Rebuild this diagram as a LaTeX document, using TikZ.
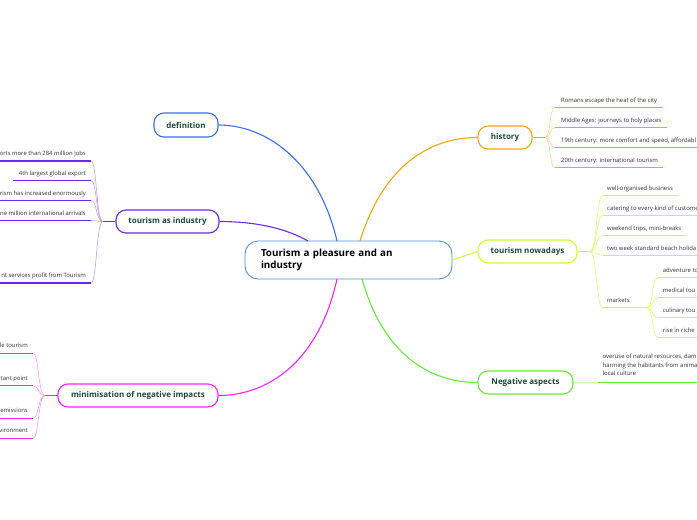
\documentclass[tikz,border=0pt]{standalone}
\usepackage{fontspec}
\setmainfont{Open Sans}
\definecolor{cblue}{HTML}{3B6EF5}
\definecolor{cpurple}{HTML}{6A2AF0}
\definecolor{cmag}{HTML}{FF22FF}
\definecolor{corange}{HTML}{FFA50A}
\definecolor{cyel}{HTML}{CCFF33}
\definecolor{cgreen}{HTML}{66EE33}
\definecolor{ccenter}{HTML}{4F93D8}
\definecolor{ctext}{HTML}{1C4A3C}
\definecolor{leaft}{HTML}{333333}
\tikzset{
  topic/.style={draw, line width=1.1pt, rounded corners=10pt, fill=white,
    font=\fontsize{8}{9.5}\selectfont\bfseries, text=ctext, inner sep=0pt, minimum height=23pt},
  leaf/.style={font=\fontsize{5.9}{7}\selectfont, text=leaft, inner sep=0pt},
  uline/.style={line width=1.5pt},
  twig/.style={line width=0.6pt},
  main/.style={line width=1.1pt}
}
\begin{document}
\begin{tikzpicture}[x=1pt,y=-1pt]
\clip (0,0) rectangle (697,520);
\fill[white] (0,0) rectangle (697,520);

% ---------- topic nodes ----------
\node[draw=ccenter, line width=0.9pt, rounded corners=13pt, fill=white, minimum width=207pt, minimum height=38pt,
  text width=175pt, align=left, inner xsep=16pt, inner ysep=0pt,
  font=\fontsize{9.8}{12.7}\selectfont\bfseries] (c) at (348.5,260) {Tourism a pleasure and an\\industry};
\node[topic, draw=cblue, minimum width=64pt, minimum height=24pt] (def) at (186,125) {definition};
\node[topic, draw=cpurple, minimum width=103pt] (ind) at (167.5,221.5) {tourism as industry};
\node[topic, draw=cmag, minimum width=160pt] (mini) at (138,395.5) {minimisation of negative impacts};
\node[topic, draw=corange, minimum width=54pt] (hist) at (505,137.5) {history};
\node[topic, draw=cyel, minimum width=99pt] (now) at (527.5,251.5) {tourism nowadays};
\node[topic, draw=cgreen, minimum width=95pt] (neg) at (525.5,382.5) {Negative aspects};

% ---------- main connectors ----------
\coordinate (cB) at (337,241);
\coordinate (cP) at (308,241);
\coordinate (cO) at (360,241);
\coordinate (cM) at (337,279);
\coordinate (cG) at (362,279);
\draw[main, cblue] (cB) .. controls (318,160) and (265,125) .. (def.east);
\draw[main, cpurple] (cP) .. controls (280,225) and (245,221.5) .. (ind.east);
\draw[main, cmag] (cM) .. controls (318,365) and (265,395.5) .. (mini.east);
\draw[main, corange] (cO) .. controls (385,160) and (435,137.5) .. (hist.west);
\draw[main, cgreen] (cG) .. controls (385,360) and (435,382.5) .. (neg.west);
\draw[main, cyel] (c.east) -- (now.west);

% ---------- history ----------
\coordinate (hf) at (545,137.5);
\draw[uline, corange] (hist.east) -- (hf);
\foreach \y/\e/\t [count=\i] in {107.7/663/{Romans escape the heat of the city},
  127.7/667/{Middle Ages: journeys to holy places},
  147.7/710/{19th century: more comfort and speed, affordabl},
  167.7/663/{20th century: international tourism}}{
  \coordinate (hs\i) at (555,\y);
  \coordinate (he\i) at (\e,\y);
  \draw[twig, corange!45] (hf) .. controls (551,137.5) and (549,\y) .. (hs\i);
  \draw[uline, corange] (hs\i) -- (he\i);
  \node[leaf, anchor=base west] (ht\i) at (561,\y-5) {\t};
}

% ---------- tourism nowadays ----------
\coordinate (nf) at (590,251.5);
\draw[uline, cyel] (now.east) -- (nf);
\foreach \y/\e/\t [count=\i] in {195.3/679/{well-organised business},
  215.3/710/{catering to every kind of custome},
  235.3/687/{weekend trips, mini-breaks},
  255.3/710/{two week standard beach holida},
  307.7/647/{markets}}{
  \coordinate (ns\i) at (603,\y);
  \coordinate (ne\i) at (\e,\y);
  \draw[twig, cyel!70] (nf) .. controls (597,251.5) and (596,\y) .. (ns\i);
  \draw[uline, cyel] (ns\i) -- (ne\i);
  \node[leaf, anchor=base west] (nt\i) at (607,\y-5) {\t};
}
\foreach \y/\t [count=\i] in {277.7/{adventure to},297.7/{medical tou},317.7/{culinary tou},337.7/{rise in riche}}{
  \coordinate (ms\i) at (658,\y);
  \coordinate (me\i) at (710,\y);
  \draw[twig, cyel!70] (ne5) .. controls (653,307.7) and (652,\y) .. (ms\i);
  \draw[uline, cyel] (ms\i) -- (me\i);
  \node[leaf, anchor=base west] (mt\i) at (662.7,\y-5) {\t};
}

% ---------- negative aspects ----------
\coordinate (gf) at (598,382.7);
\coordinate (ge) at (710,382.7);
\draw[uline, cgreen!35] (neg.east) -- (gf);
\draw[uline, cgreen] (gf) -- (ge);
\node[leaf, anchor=north west, align=left, font=\fontsize{5.9}{8.3}\selectfont] (gt) at (602.5,354)
  {overuse of natural resources, dam\\harming the habitants from anima\\local culture};

% ---------- tourism as industry ----------
\coordinate (if) at (103,221.5);
\draw[uline, cpurple] (ind.west) -- (if);
\foreach \y/\s/\t [count=\i] in {161/-5/{orts more than 284 million jobs},
  180.5/13/{4th largest global export},
  200.5/-5/{rism has increased enormously},
  220.5/-5/{ne million international arrivals},
  283/-5/{nt services profit from Tourism}}{
  \coordinate (ie\i) at (91,\y);
  \coordinate (is\i) at (\s,\y);
  \draw[twig, cpurple!45] (if) .. controls (96,221.5) and (97,\y) .. (ie\i);
  \draw[uline, cpurple] (is\i) -- (ie\i);
  \node[leaf, anchor=base east] (it\i) at (86,\y-5.5) {\t};
}

% ---------- minimisation ----------
\coordinate (mf) at (45,395.5);
\draw[uline, cmag] (mini.west) -- (mf);
\foreach \y/\t [count=\i] in {353.3/{le tourism},385.7/{rtant point},418.3/{emissions},438.3/{vironment}}{
  \coordinate (xe\i) at (33,\y);
  \coordinate (xs\i) at (-5,\y);
  \draw[twig, cmag!45] (mf) .. controls (38,395.5) and (39,\y) .. (xe\i);
  \draw[uline, cmag] (xs\i) -- (xe\i);
  \node[leaf, anchor=base east] (xt\i) at (28,\y-5.5) {\t};
}
\end{tikzpicture}
\end{document}
